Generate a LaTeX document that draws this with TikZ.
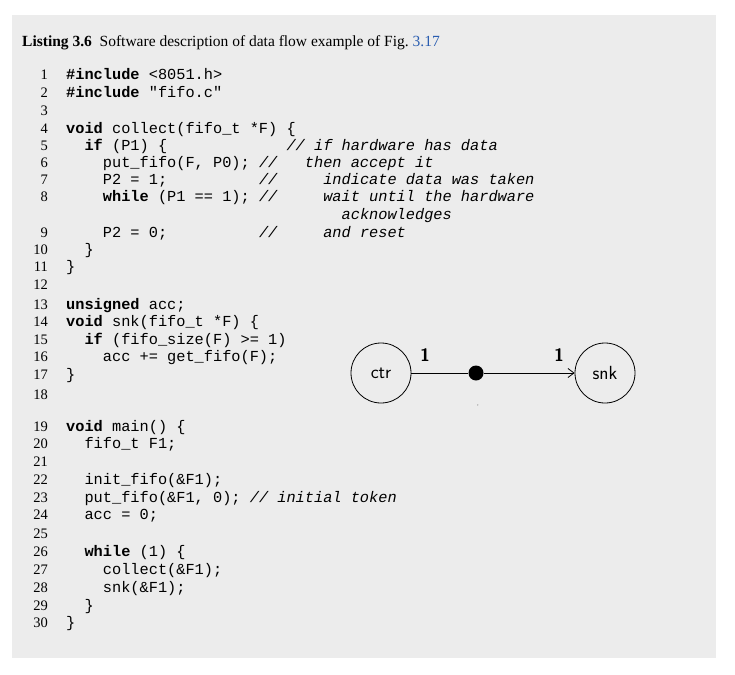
\documentclass[tikz,border=0pt]{standalone}
\usepackage{fontspec}
\setmainfont{Liberation Serif}
\setmonofont{Liberation Mono}
\usetikzlibrary{arrows.meta}
\definecolor{bg}{HTML}{ECECEC}
\definecolor{lnk}{HTML}{2A5DB0}
\newcommand{\kw}[1]{\textbf{#1}}
\newcommand{\cm}[1]{\textit{#1}}
\tikzset{
  num/.style={anchor=base east,inner sep=0pt,font=\fontsize{14.5}{16}\selectfont},
  code/.style={anchor=base west,inner sep=0pt,font=\fontsize{15.3}{17}\ttfamily},
  actor/.style={circle,draw,line width=0.8pt,minimum size=60pt,inner sep=0pt,font=\fontsize{19}{21}\sffamily},
  rate/.style={font=\fontsize{18}{20}\sffamily\bfseries,inner sep=0pt}
}
\begin{document}
\begin{tikzpicture}[x=1pt,y=-1pt]
\useasboundingbox (0,0) rectangle (735,674);
\fill[bg] (12,15) rectangle (716,658);
\node[anchor=base west,inner sep=0pt,font=\fontsize{15.5}{17}\selectfont] (title) at (22,47)
  {\textbf{Listing 3.6}\enspace Software description of data flow example of Fig.~\textcolor{lnk}{3.17}};
\foreach \n/\y in {1/75,2/93,3/110,4/128,5/145,6/162,7/179,8/196,9/232,10/249,11/266,12/284,13/304,14/321,15/339,16/356,17/374,18/394,19/426,20/443,21/461,22/479,23/497,24/514,25/533,26/551,27/569,28/587,29/605,30/622}
  \node[num] (n\n) at (48,\y+5) {\n};
\node[code] (c1) at (66,80) {\kw{\#include} <8051.h>};
\node[code] (c2) at (66,98) {\kw{\#include} "fifo.c"};
\node[code] (c4) at (66,133) {\kw{void} collect(fifo\_t *F) \{};
\node[code] (c5) at (66,150) {~~\kw{if} (P1) \{~~~~~~~~~~~~~\cm{// if hardware has data}};
\node[code] (c6) at (66,167) {~~~~put\_fifo(F, P0); \cm{//~~~then accept it}};
\node[code] (c7) at (66,184) {~~~~P2 = 1;~~~~~~~~~~\cm{//~~~~~indicate data was taken}};
\node[code] (c8) at (66,201) {~~~~\kw{while} (P1 == 1); \cm{//~~~~~wait until the hardware}};
\node[code] (c8b) at (66,219) {~~~~~~~~~~~~~~~~~~~~~~~~~~~~~~\cm{acknowledges}};
\node[code] (c9) at (66,237) {~~~~P2 = 0;~~~~~~~~~~\cm{//~~~~~and reset}};
\node[code] (c10) at (66,254) {~~\}};
\node[code] (c11) at (66,271) {\}};
\node[code] (c13) at (66,309) {\kw{unsigned} acc;};
\node[code] (c14) at (66,326) {\kw{void} snk(fifo\_t *F) \{};
\node[code] (c15) at (66,344) {~~\kw{if} (fifo\_size(F) >= 1)};
\node[code] (c16) at (66,361) {~~~~acc += get\_fifo(F);};
\node[code] (c17) at (66,379) {\}};
\node[code] (c19) at (66,431) {\kw{void} main() \{};
\node[code] (c20) at (66,448) {~~fifo\_t F1;};
\node[code] (c22) at (66,484) {~~init\_fifo(\&F1);};
\node[code] (c23) at (66,502) {~~put\_fifo(\&F1, 0); \cm{// initial token}};
\node[code] (c24) at (66,519) {~~acc = 0;};
\node[code] (c26) at (66,556) {~~\kw{while} (1) \{};
\node[code] (c27) at (66,574) {~~~~collect(\&F1);};
\node[code] (c28) at (66,592) {~~~~snk(\&F1);};
\node[code] (c29) at (66,610) {~~\}};
\node[code] (c30) at (66,627) {\}};
% diagram
\node[actor] (ctr) at (381,373) {ctr};
\node[actor] (snk) at (605,373) {snk};
\node[circle,fill,minimum size=15pt,inner sep=0pt] (tok) at (476,373) {};
\draw[line width=0.8pt] (ctr) -- (tok);
\draw[line width=0.8pt,-{Straight Barb[length=6pt,width=9pt]}] (tok) -- (snk);
\node[rate] (r1) at (425,355) {1};
\node[rate] (r2) at (559,355) {1};
\node[inner sep=0pt,font=\tiny] (tick) at (478,406) {,};
\end{tikzpicture}
\end{document}
